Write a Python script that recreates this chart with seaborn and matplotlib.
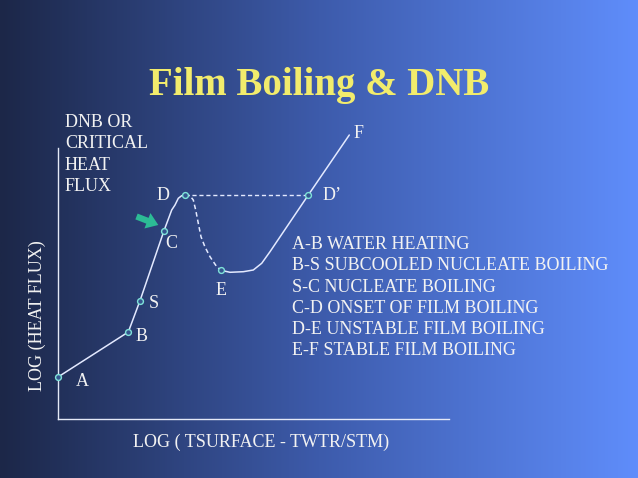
import numpy as np
import pandas as pd
import matplotlib
matplotlib.use("Agg")
import matplotlib.pyplot as plt
import seaborn as sns
from matplotlib.colors import LinearSegmentedColormap

# ---------------- data (abstract units) ----------------
solid1_x = [0.5, 70.8, 82.5, 106.5, 114.2, 117.5, 120.8, 124.2, 127.5]
solid1_y = [41.5, 86.5, 117.8, 187.8, 208.5, 213.5, 220.2, 222.8, 223.5]
dash_x = [127.5, 132.5, 135.8, 138.2, 140.8, 143.5, 147.5, 152.5, 159.2, 163.5]
dash_y = [223.5, 222.8, 218.5, 208.5, 195.2, 181.8, 171.5, 161.8, 151.8, 148.2]
solid2_x = [163.5, 172.5, 185.8, 195.8, 204.2, 212.5, 250.8, 291.8]
solid2_y = [148.2, 146.2, 146.8, 148.5, 155.2, 166.8, 223.5, 283.5]
chf_x = [127.5, 250.8]
chf_y = [223.5, 223.5]
pt_names = ["A", "B", "S", "C", "D", "E", "D\u2019"]
pt_x = [0.5, 70.8, 82.5, 106.5, 127.5, 163.5, 250.8]
pt_y = [41.5, 86.5, 117.8, 187.8, 223.5, 148.2, 223.5]
legend_lines = ["A-B WATER HEATING", "B-S SUBCOOLED NUCLEATE BOILING",
                "S-C NUCLEATE BOILING", "C-D ONSET OF FILM BOILING",
                "D-E UNSTABLE FILM BOILING", "E-F STABLE FILM BOILING"]
dnb_lines = ["DNB OR", "CRITICAL", "HEAT", "FLUX"]
title = "Film Boiling & DNB"
xlabel = "LOG ( TSURFACE - TWTR/STM)"
ylabel = "LOG (HEAT FLUX)"

# ---------------- figure ----------------
sns.set_style("white")
plt.rcParams['font.family'] = ['Liberation Serif', 'DejaVu Serif']
W, H = 638, 478
fig = plt.figure(figsize=(W / 100, H / 100), dpi=100)

def px(x, y):
    return (x / W, 1 - y / H)

# background gradient
bg = fig.add_axes([0, 0, 1, 1], zorder=-5)
cmap = LinearSegmentedColormap.from_list("bg", ["#1c2748", "#3d5bab", "#5f8dfb"])
grad = np.linspace(0, 1, 512).reshape(1, -1)
bg.imshow(grad, aspect="auto", cmap=cmap, extent=[0, 1, 0, 1])
bg.set_axis_off()

# main axes placed on the drawn axis lines
left, right, bottom, top = 57.5, 449.0, 418.5, 148.0
ax = fig.add_axes([left / W, (H - bottom) / H, (right - left) / W, (bottom - top) / H])
ax.set_facecolor("none")
ax.set_xlim(0, right - left)
ax.set_ylim(0, bottom - top)
for s in ["top", "right"]:
    ax.spines[s].set_visible(False)
for s in ["left", "bottom"]:
    ax.spines[s].set_color("#e4e9f7")
    ax.spines[s].set_linewidth(1.0)
ax.set_xticks([])
ax.set_yticks([])

lc = "#e3e9ff"
sns.lineplot(x=solid1_x, y=solid1_y, ax=ax, sort=False, color=lc, lw=1.1, clip_on=False)
sns.lineplot(x=solid2_x, y=solid2_y, ax=ax, sort=False, color=lc, lw=1.1, clip_on=False)
sns.lineplot(x=dash_x, y=dash_y, ax=ax, sort=False, color=lc, lw=1.1,
             linestyle=(0, (3, 2)), clip_on=False)
sns.lineplot(x=chf_x, y=chf_y, ax=ax, sort=False, color=lc, lw=1.0,
             linestyle=(0, (3, 2)), clip_on=False)
ax.plot(pt_x, pt_y, "o", ms=4.2, mfc="#35558f", mec="#7fe3d9", mew=1.0,
        clip_on=False, zorder=5)

# teal arrow pointing at C
ax.annotate("", xy=(100.8, 193.5), xytext=(79.0, 202.0),
            arrowprops=dict(arrowstyle="simple,head_width=0.85,head_length=0.6,tail_width=0.32",
                            color="#2cbb95", mutation_scale=14, lw=0,
                            shrinkA=0, shrinkB=0))

tc = "#f2f2f2"
fs = 13
# point labels
lab_pos = {"A": (76, 386), "B": (136, 341), "S": (149, 307.5), "C": (165, 248),
           "D": (156.5, 200), "E": (215.5, 295), "D\u2019": (322.5, 200)}
for n in pt_names:
    fig.text(*px(*lab_pos[n]), n, color=tc, fontsize=fs, va="baseline", ha="left")
fig.text(*px(354, 138), "F", color=tc, fontsize=fs, va="baseline", ha="left")

# DNB label
for i, t in enumerate(dnb_lines):
    fig.text(*px(65, 126.7 + i * 21.4), t, color=tc, fontsize=fs, va="baseline", ha="left")

# legend text
for i, t in enumerate(legend_lines):
    fig.text(*px(292.5, 249.3 + i * 21.15), t, color=tc, fontsize=fs, va="baseline", ha="left")

# title and axis labels
fig.text(*px(319, 95), title, color="#f2ec6c", fontsize=28, fontweight="bold",
         ha="center", va="baseline")
fig.text(*px(261, 446.5), xlabel, color=tc, fontsize=fs, ha="center", va="baseline")
fig.text(*px(37, 316), ylabel, color=tc, fontsize=fs, ha="center", va="center",
         rotation=90)

fig.savefig("out.png", dpi=100)
